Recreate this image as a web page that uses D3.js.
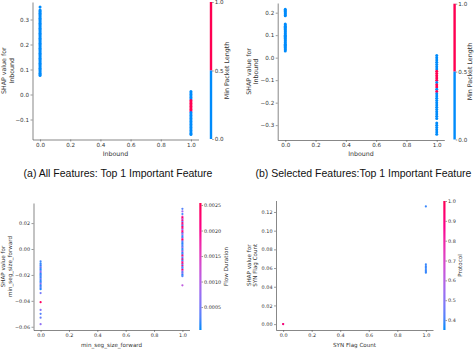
<!DOCTYPE html>
<html>
<head>
<meta charset="utf-8">
<script src="https://cdn.jsdelivr.net/npm/d3@7"></script>
<style>
body { margin: 0; background: #fff; }
text { font-family: "DejaVu Sans", sans-serif; fill: #333; }
.cap { font-family: "Liberation Sans", Arial, sans-serif; fill: #111; }
</style>
</head>
<body>
<div id="chart"></div>
<script>
// (a) all features, Inbound, coloured by Min Packet Length (0/1)
var aShap0 = [0.35, 0.338, 0.334, 0.33, 0.325, 0.32, 0.315, 0.31, 0.305, 0.30, 0.295, 0.29, 0.285, 0.28, 0.275, 0.27, 0.265, 0.26,
              0.255, 0.25, 0.245, 0.24, 0.235, 0.23, 0.225, 0.22, 0.215, 0.21, 0.205, 0.20, 0.195, 0.19, 0.185, 0.18, 0.175,
              0.17, 0.165, 0.16, 0.155, 0.15, 0.145, 0.14, 0.135, 0.13, 0.125, 0.12, 0.115, 0.11, 0.105, 0.10, 0.095, 0.09,
              0.085, 0.08, 0.076]
var aMinPkt0 = [0, 0, 0, 0, 0, 0, 0, 0, 0, 0, 0, 0, 0, 0, 0, 0, 0, 0,
                0, 0, 0, 0, 0, 0, 0, 0, 0, 0, 0, 0, 0, 0, 0, 0, 0,
                0, 0, 0, 0, 0, 0, 0, 0, 0, 0, 0, 0, 0, 0, 0, 0, 0,
                0, 0, 0]
var aShap1 = [0.012, 0.006, 0.0, -0.006, -0.012, -0.018, -0.024, -0.03, -0.036, -0.042, -0.048, -0.054, -0.06, -0.066, -0.072,
              -0.078, -0.084, -0.09, -0.096, -0.102, -0.108, -0.114, -0.12, -0.126, -0.132, -0.138, -0.144, -0.15, -0.156, -0.16]
var aMinPkt1 = [0, 0, 0, 0, 0, 0, 1, 1, 1, 1, 1, 1, 1, 1, 0,
                0, 0, 0, 0, 0, 0, 0, 0, 0, 0, 0, 0, 0, 0, 0]

// (b) selected features, Inbound, coloured by Min Packet Length (0/1)
var bShap0 = [0.215, 0.21, 0.205, 0.20, 0.195, 0.19, 0.186, 0.15, 0.145, 0.14, 0.135, 0.13, 0.125, 0.12, 0.115, 0.11,
              0.105, 0.10, 0.095, 0.09, 0.085, 0.08, 0.075, 0.07, 0.065, 0.06, 0.055, 0.05, 0.045, 0.04, 0.035, 0.03]
var bMinPkt0 = [0, 0, 0, 0, 0, 0, 0, 0, 0, 0, 0, 0, 0, 0, 0, 0,
                0, 0, 0, 0, 0, 0, 0, 0, 0, 0, 0, 0, 0, 0, 0, 0]
var bShap1 = [0.01, 0.0, -0.01, -0.02, -0.03, -0.04, -0.05, -0.06, -0.07, -0.08, -0.09, -0.10, -0.11, -0.12, -0.13, -0.14, -0.15,
              -0.16, -0.17, -0.18, -0.19, -0.20, -0.21, -0.22, -0.23, -0.24, -0.25, -0.26, -0.27,
              -0.29, -0.30, -0.31, -0.32, -0.33, -0.34]
var bMinPkt1 = [0, 0, 0, 0, 0, 0, 0, 1, 1, 1, 1, 1, 0, 1, 1, 0, 1,
                0, 0, 0, 0, 0, 0, 0, 0, 0, 0, 0, 0,
                0, 0, 0, 0, 0, 0]

// (c) min_seg_size_forward, coloured by Flow Duration
var cShap0 = [-0.0095, -0.011, -0.012, -0.013, -0.014, -0.015, -0.016, -0.017, -0.018, -0.019, -0.02, -0.021, -0.022, -0.023,
              -0.024, -0.025, -0.026, -0.027, -0.028, -0.029, -0.03, -0.031, -0.034, -0.041, -0.047, -0.05, -0.053, -0.058]
var cDur0 = [0.0002, 0.0001, 0.0003, 0.0001, 0.0006, 0.0002, 0.0001, 0.0004, 0.0009, 0.0001, 0.0002, 0.0003, 0.0001, 0.0005,
             0.0002, 0.0001, 0.0003, 0.0008, 0.0001, 0.0002, 0.0004, 0.0001, 0.0005, 0.0024, 0.0006, 0.0003, 0.0004, 0.0007]
var cShap1 = [0.031, 0.029, 0.027, 0.025, 0.024, 0.023, 0.022, 0.021, 0.020, 0.019, 0.018, 0.017, 0.016, 0.015, 0.014, 0.013, 0.012,
              0.011, 0.010, 0.009, 0.008, 0.007, 0.006, 0.005, 0.004, 0.003, 0.002, 0.001, 0.0, -0.001, -0.002, -0.003, -0.004, -0.005,
              -0.006, -0.007, -0.008, -0.009, -0.010, -0.011, -0.012, -0.013, -0.014, -0.015, -0.016, -0.017, -0.018, -0.019, -0.020,
              -0.021, -0.028]
var cDur1 = [0.0003, 0.0008, 0.0002, 0.0016, 0.0024, 0.0012, 0.0022, 0.0004, 0.0023, 0.0019, 0.0002, 0.0024, 0.0021, 0.0006, 0.0018, 0.0023, 0.0003,
             0.0011, 0.0002, 0.0001, 0.0015, 0.0024, 0.0004, 0.0002, 0.0001, 0.0003, 0.0002, 0.0007, 0.0001, 0.0002, 0.0013, 0.0001, 0.0003, 0.0024,
             0.0009, 0.0002, 0.0022, 0.0001, 0.0017, 0.0024, 0.0003, 0.0021, 0.0002, 0.0004, 0.0023, 0.0012, 0.0002, 0.0008, 0.0001,
             0.0003, 0.0011]

// (d) SYN Flag Count, coloured by Protocol
var dShap0 = [0.0, 0.0]
var dProto0 = [0.6, 0.95]
var dShap1 = [0.126, 0.064, 0.062, 0.0605, 0.059, 0.0575, 0.056, 0.055]
var dProto1 = [0.38, 0.38, 0.38, 0.38, 0.38, 0.38, 0.38, 0.38]

var xTicks = [0, 0.2, 0.4, 0.6, 0.8, 1.0]
var binTicks = [0, 0.5, 1.0]
var durTicks = [0.0005, 0.0010, 0.0015, 0.0020, 0.0025]
var protoTicks = [0.4, 0.5, 0.6, 0.7, 0.8, 0.9, 1.0]

var captions = ["(a) All Features: Top 1 Important Feature", "(b) Selected Features:Top 1 Important Feature"]

var blue = "#008bfb", red = "#ff0052"
var redBlue = d3.interpolateHcl(blue, red)

var svg = d3.select("#chart").append("svg").attr("width", 474).attr("height", 349)
var defs = svg.append("defs")

function pts(x, shap, col) {
    return shap.map(function(v, i) { return {x: x, y: v, c: col[i]} })
}

function panel(o) {
    var g = svg.append("g")
    var x = d3.scaleLinear().domain([-0.05, 1.05]).range([o.left, o.right])
    var y = d3.scaleLinear().domain(o.yDom).range([o.bottom, o.top])
    var cs = d3.scaleLinear().domain(o.cDom).range([0, 1]).clamp(true)
    var col = function(v) {
        if (o.discrete) { return v >= 0.5 ? red : blue }
        return redBlue(cs(v))
    }

    g.selectAll(".dot").data(o.points).enter().append("circle")
        .attr("cx", function(d) { return x(d.x) })
        .attr("cy", function(d) { return y(d.y) })
        .attr("r", o.r)
        .attr("fill", function(d) { return col(d.c) })

    var xa = g.append("g").attr("transform", "translate(0," + o.bottom + ")")
        .call(d3.axisBottom(x).tickValues(xTicks).tickFormat(d3.format(".1f")).tickSize(2).tickPadding(1.5).tickSizeOuter(0))
    var ya = g.append("g").attr("transform", "translate(" + o.left + ",0)")
        .call(d3.axisLeft(y).tickValues(o.yTicks).tickFormat(d3.format(o.yFmt)).tickSize(2).tickPadding(1.5).tickSizeOuter(0))
    ;[xa, ya].forEach(function(a) {
        a.select(".domain").attr("stroke", "#555").attr("stroke-width", 0.7)
        a.selectAll(".tick line").attr("stroke", "#555").attr("stroke-width", 0.6)
        a.selectAll("text").style("font-size", o.tfs + "px").attr("fill", "#333").style("font-family", "DejaVu Sans")
    })

    // x label
    g.append("text").attr("x", (o.left + o.right) / 2).attr("y", o.xLabY).attr("dy", "0.35em")
        .attr("text-anchor", "middle").style("font-size", o.lfs + "px").text(o.xLabel)
    // y label, two lines
    var cy = (o.top + o.bottom) / 2
    o.yLabel.forEach(function(t, i) {
        g.append("text").attr("transform", "translate(" + o.yLabX[i] + "," + cy + ") rotate(-90)")
            .attr("dy", "0.35em").attr("text-anchor", "middle").style("font-size", o.lfs + "px").text(t)
    })

    // colour bar
    var cb = o.cb
    var cy2 = d3.scaleLinear().domain(o.cDom).range([cb.bottom, cb.top])
    if (o.discrete) {
        g.append("rect").attr("x", cb.x).attr("width", cb.w).attr("y", cb.top).attr("height", cy2(0.5) - cb.top).attr("fill", red)
        g.append("rect").attr("x", cb.x).attr("width", cb.w).attr("y", cy2(0.5)).attr("height", cb.bottom - cy2(0.5)).attr("fill", blue)
    } else {
        var gid = "grad" + o.id
        var lg = defs.append("linearGradient").attr("id", gid).attr("x1", 0).attr("x2", 0).attr("y1", 1).attr("y2", 0)
        d3.range(0, 1.01, 0.1).forEach(function(t) {
            lg.append("stop").attr("offset", t).attr("stop-color", redBlue(t))
        })
        g.append("rect").attr("x", cb.x).attr("width", cb.w).attr("y", cb.top).attr("height", cb.bottom - cb.top).attr("fill", "url(#" + gid + ")")
    }
    var ca = g.append("g").attr("transform", "translate(" + (cb.x + cb.w) + ",0)")
        .call(d3.axisRight(cy2).tickValues(o.cTicks).tickFormat(d3.format(o.cFmt)).tickSize(1.5).tickPadding(1).tickSizeOuter(0))
    ca.select(".domain").remove()
    ca.selectAll(".tick line").attr("stroke", "#555").attr("stroke-width", 0.6)
    ca.selectAll("text").style("font-size", o.tfs + "px").attr("fill", "#333").style("font-family", "DejaVu Sans")
    g.append("text").attr("transform", "translate(" + cb.labX + "," + (cb.top + cb.bottom) / 2 + ") rotate(-90)")
        .attr("dy", "0.35em").attr("text-anchor", "middle").style("font-size", o.lfs + "px").text(cb.label)
}

panel({id: "a", left: 32.5, right: 198.5, top: 2, bottom: 139.5, yDom: [-0.18, 0.37],
    yTicks: [-0.1, 0, 0.1, 0.2, 0.3], yFmt: ".1f", r: 1.5, discrete: true, cDom: [0, 1],
    tfs: 5.6, lfs: 6.3, xLabY: 153.5,
    points: pts(0, aShap0, aMinPkt0).concat(pts(1, aShap1, aMinPkt1)),
    xLabel: "Inbound", yLabel: ["SHAP value for", "Inbound"], yLabX: [4.2, 11.5],
    cTicks: binTicks, cFmt: ".1f",
    cb: {x: 209.8, w: 2.4, top: 2, bottom: 139, labX: 226.5, label: "Min Packet Length"}})

panel({id: "b", left: 277.7, right: 444.3, top: 3, bottom: 140, yDom: [-0.366, 0.243],
    yTicks: [-0.3, -0.2, -0.1, 0, 0.1, 0.2], yFmt: ".1f", r: 1.5, discrete: true, cDom: [0, 1],
    tfs: 5.6, lfs: 6.3, xLabY: 154,
    points: pts(0, bShap0, bMinPkt0).concat(pts(1, bShap1, bMinPkt1)),
    xLabel: "Inbound", yLabel: ["SHAP value for", "Inbound"], yLabX: [248.7, 256],
    cTicks: binTicks, cFmt: ".1f",
    cb: {x: 453.4, w: 2.4, top: 3.7, bottom: 139.5, labX: 469.8, label: "Min Packet Length"}})

panel({id: "c", left: 33.5, right: 189.5, top: 203, bottom: 330, yDom: [-0.0625, 0.0355],
    yTicks: [-0.06, -0.04, -0.02, 0, 0.02], yFmt: ".2f", r: 1.1, discrete: false, cDom: [0.00005, 0.00254],
    tfs: 4.9, lfs: 5.6, xLabY: 345,
    points: pts(0, cShap0, cDur0).concat(pts(1, cShap1, cDur1)),
    xLabel: "min_seg_size_forward", yLabel: ["SHAP value for", "min_seg_size_forward"], yLabX: [3.5, 10.5],
    cTicks: durTicks, cFmt: ".4f",
    cb: {x: 199.3, w: 2.2, top: 203, bottom: 330, labX: 226, label: "Flow Duration"}})

panel({id: "d", left: 276, right: 433, top: 200.5, bottom: 330, yDom: [-0.0063, 0.1323],
    yTicks: [0, 0.02, 0.04, 0.06, 0.08, 0.10, 0.12], yFmt: ".2f", r: 1.1, discrete: false, cDom: [0.35, 1.0],
    tfs: 4.9, lfs: 5.6, xLabY: 345,
    points: pts(0, dShap0, dProto0).concat(pts(1, dShap1, dProto1)),
    xLabel: "SYN Flag Count", yLabel: ["SHAP value for", "SYN Flag Count"], yLabX: [248.7, 255.3],
    cTicks: protoTicks, cFmt: ".1f",
    cb: {x: 443.3, w: 2.2, top: 201, bottom: 330, labX: 459.7, label: "Protocol"}})

svg.append("text").attr("class", "cap").attr("x", 118).attr("y", 177).attr("text-anchor", "middle")
    .style("font-size", "10.5px").text(captions[0])
svg.append("text").attr("class", "cap").attr("x", 363.5).attr("y", 177).attr("text-anchor", "middle")
    .style("font-size", "10.5px").text(captions[1])
</script>
</body>
</html>
